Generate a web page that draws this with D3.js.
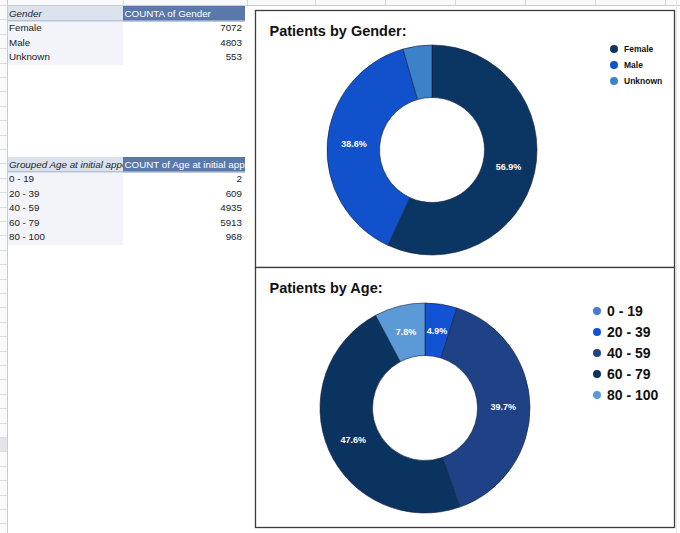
<!DOCTYPE html>
<html>
<head>
<meta charset="utf-8">
<script src="https://cdn.jsdelivr.net/npm/d3@7/dist/d3.min.js"></script>
<style>
  body { margin: 0; background: #fff; }
  svg { display: block; }
</style>
</head>
<body>
<script>
// data
var genderLabels = ["Female", "Male", "Unknown"];
var genderCounts = [7072, 4803, 553];
var ageLabels = ["0 - 19", "20 - 39", "40 - 59", "60 - 79", "80 - 100"];
var ageCounts = [2, 609, 4935, 5913, 968];

var genderColors = ["#0b3664", "#1152cc", "#3b82c8"];
var ageColors = ["#4a7ccb", "#1253d4", "#1f4287", "#0a335f", "#5b9ad6"];

var W = 680, H = 533;
var sheetFont = "'Liberation Sans', Arial, sans-serif";

var svg = d3.select("body").append("svg")
    .attr("width", W)
    .attr("height", H);

// spreadsheet background: column header strip and row numbers
var colEdges = [7, 123, 247, 315, 385, 455, 525, 595, 665];
svg.append("rect").attr("x", 0).attr("y", 0).attr("width", W).attr("height", 5).attr("fill", "#f8f9fa");
svg.selectAll("line.colsep").data(colEdges).enter().append("line")
    .attr("class", "colsep")
    .attr("x1", function(d) { return d + 0.5; }).attr("x2", function(d) { return d + 0.5; })
    .attr("y1", 0).attr("y2", 5)
    .attr("stroke", "#d6d9dd");
svg.append("line").attr("x1", 0).attr("x2", W).attr("y1", 5.5).attr("y2", 5.5).attr("stroke", "#c9ccd0");
svg.append("rect").attr("x", 0).attr("y", 5).attr("width", 7).attr("height", H).attr("fill", "#f8f9fa");
svg.append("line").attr("x1", 7.5).attr("x2", 7.5).attr("y1", 0).attr("y2", H).attr("stroke", "#c9ccd0");
svg.append("rect").attr("x", 0).attr("y", 437).attr("width", 7).attr("height", 14).attr("fill", "#e2e4e7");
svg.selectAll("line.rowsep").data(d3.range(5, H, 14.4)).enter().append("line")
    .attr("class", "rowsep")
    .attr("x1", 0).attr("x2", 7)
    .attr("y1", function(d) { return Math.round(d) + 0.5; })
    .attr("y2", function(d) { return Math.round(d) + 0.5; })
    .attr("stroke", "#dadde1");
svg.append("line").attr("x1", 676.5).attr("x2", 676.5).attr("y1", 0).attr("y2", H).attr("stroke", "#e3e5e8");

// pivot tables
function drawTable(top, headA, headB, labels, counts) {
  var rowH = 14.5;
  var g = svg.append("g").attr("transform", "translate(0," + top + ")");
  g.append("rect").attr("x", 8).attr("y", 0).attr("width", 115).attr("height", rowH).attr("fill", "#dbe2ee");
  g.append("rect").attr("x", 123).attr("y", 0).attr("width", 122).attr("height", rowH).attr("fill", "#5b78aa");
  g.append("line").attr("x1", 8).attr("x2", 245).attr("y1", rowH + 0.5).attr("y2", rowH + 0.5).attr("stroke", "#7d93bb");
  g.append("rect").attr("x", 8).attr("y", rowH + 1).attr("width", 115).attr("height", rowH * labels.length).attr("fill", "#f2f4f9");
  // header texts are cut at their cell edges
  var clipA = "clipA" + top, clipB = "clipB" + top;
  g.append("clipPath").attr("id", clipA).append("rect").attr("x", 8).attr("y", 0).attr("width", 115).attr("height", rowH);
  g.append("clipPath").attr("id", clipB).append("rect").attr("x", 123).attr("y", 0).attr("width", 122).attr("height", rowH);
  g.append("text").attr("x", 9).attr("y", 10.5)
      .attr("font-family", sheetFont).attr("font-size", 9.8).attr("font-style", "italic").attr("fill", "#222")
      .attr("clip-path", "url(#" + clipA + ")")
      .text(headA);
  g.append("text").attr("x", 124.5).attr("y", 10.5)
      .attr("font-family", sheetFont).attr("font-size", 9.8).attr("fill", "#fff")
      .attr("clip-path", "url(#" + clipB + ")")
      .text(headB);
  var rows = g.selectAll("g.row").data(labels).enter().append("g")
      .attr("transform", function(d, i) { return "translate(0," + (rowH * (i + 1)) + ")"; });
  rows.append("text").attr("x", 9).attr("y", 10.5)
      .attr("font-family", sheetFont).attr("font-size", 9.8).attr("fill", "#222")
      .text(function(d) { return d; });
  rows.append("text").attr("x", 242).attr("y", 10.5).attr("text-anchor", "end")
      .attr("font-family", sheetFont).attr("font-size", 9.8).attr("fill", "#222")
      .text(function(d, i) { return counts[i]; });
}
drawTable(6, "Gender", "COUNTA of Gender", genderLabels, genderCounts);
drawTable(157, "Grouped Age at initial appointment", "COUNT of Age at initial appointment", ageLabels, ageCounts);

// donut charts
function drawDonut(opt) {
  var box = svg.append("g");
  box.append("rect").attr("x", opt.x).attr("y", opt.y).attr("width", opt.w).attr("height", opt.h)
      .attr("fill", "#fff").attr("stroke", "#3c3c3c").attr("stroke-width", 1.3);
  box.append("text").attr("x", opt.x + 14).attr("y", opt.y + 25)
      .attr("font-family", "Arial, 'Liberation Sans', sans-serif").attr("font-size", 14.5).attr("font-weight", "bold")
      .attr("fill", "#111")
      .text(opt.title);

  var total = d3.sum(opt.values);
  var pie = d3.pie().sort(null).value(function(d) { return d; });
  var arcs = pie(opt.values);
  var arc = d3.arc().innerRadius(opt.r * 0.5).outerRadius(opt.r);
  var labelArc = d3.arc().innerRadius(opt.r * 0.745).outerRadius(opt.r * 0.745);
  var color = d3.scaleOrdinal().domain(opt.labels).range(opt.colors);

  var g = box.append("g").attr("transform", "translate(" + opt.cx + "," + opt.cy + ")");
  g.selectAll("path").data(arcs).enter().append("path")
      .attr("d", arc)
      .attr("fill", function(d, i) { return color(opt.labels[i]); })
      .attr("stroke", "#15203a")
      .attr("stroke-width", 0.6);
  g.selectAll("text").data(arcs.filter(function(d) { return d.value / total >= 0.046; })).enter().append("text")
      .attr("transform", function(d) { return "translate(" + labelArc.centroid(d) + ")"; })
      .attr("text-anchor", "middle").attr("dy", "0.35em")
      .attr("font-family", "Arial, 'Liberation Sans', sans-serif").attr("font-size", 9).attr("font-weight", "bold")
      .attr("fill", "#fff")
      .text(function(d) { return d3.format(".1%")(d.value / total); });

  var leg = box.selectAll("g.leg").data(opt.labels).enter().append("g")
      .attr("transform", function(d, i) { return "translate(" + opt.lx + "," + (opt.ly + i * opt.lstep) + ")"; });
  leg.append("circle").attr("r", opt.lr).attr("fill", function(d) { return color(d); });
  leg.append("text").attr("x", opt.lr + 6).attr("dy", "0.35em")
      .attr("font-family", "Arial, 'Liberation Sans', sans-serif").attr("font-size", opt.lfs).attr("font-weight", "bold")
      .attr("fill", "#111")
      .text(function(d) { return d; });
}

drawDonut({
  x: 255.5, y: 10.5, w: 419, h: 257, title: "Patients by Gender:",
  labels: genderLabels, values: genderCounts, colors: genderColors,
  cx: 432, cy: 150, r: 105,
  lx: 614, ly: 49, lstep: 16, lr: 4, lfs: 8.5
});
drawDonut({
  x: 255.5, y: 267.5, w: 419, h: 260, title: "Patients by Age:",
  labels: ageLabels, values: ageCounts, colors: ageColors,
  cx: 425, cy: 408, r: 105,
  lx: 597, ly: 311, lstep: 21, lr: 4, lfs: 14
});
</script>
</body>
</html>
